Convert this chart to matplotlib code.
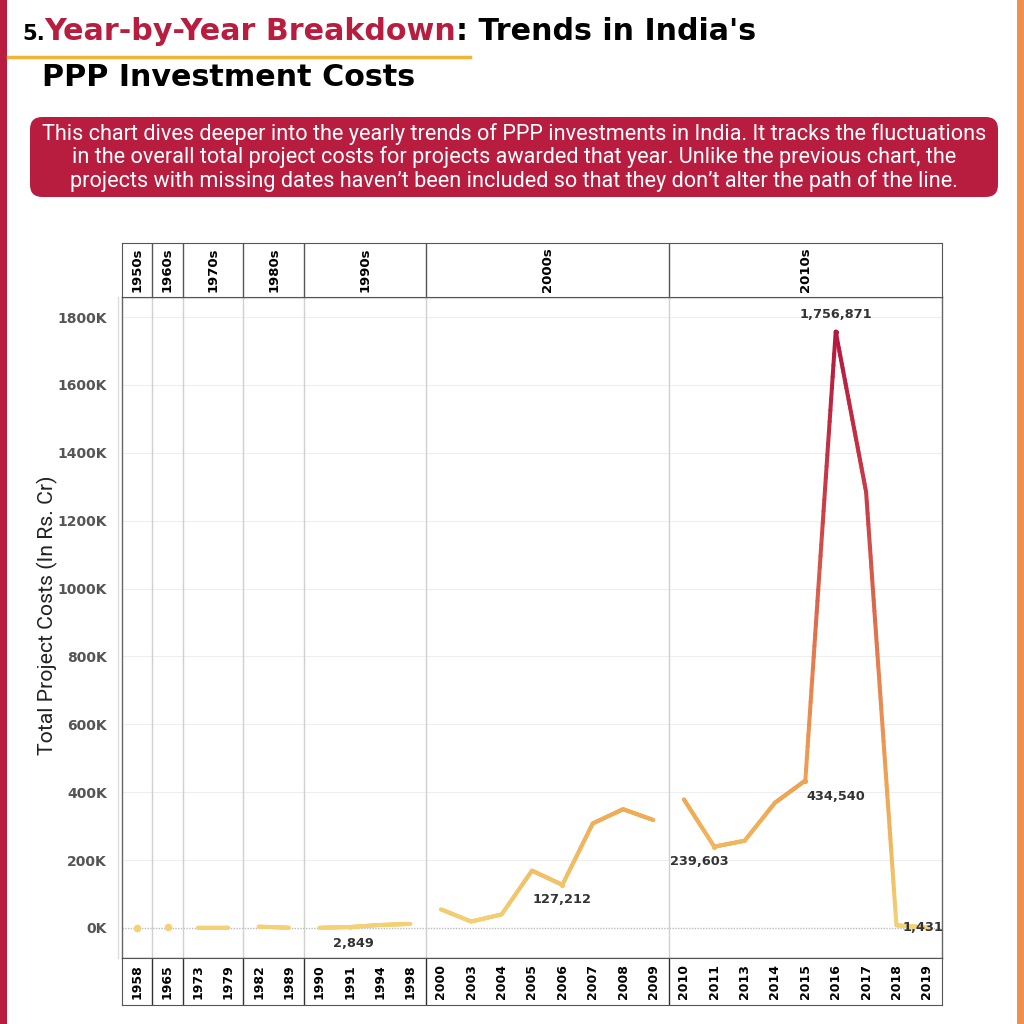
import numpy as np
import matplotlib
matplotlib.use("Agg")
import matplotlib.pyplot as plt
from matplotlib import font_manager
from matplotlib.collections import LineCollection
from matplotlib.colors import LinearSegmentedColormap
from matplotlib.patches import FancyBboxPatch, Rectangle
from matplotlib.lines import Line2D

# data
years = ['1958', '1965', '1973', '1979', '1982', '1989', '1990', '1991', '1994', '1998',
         '2000', '2003', '2004', '2005', '2006', '2007', '2008', '2009',
         '2010', '2011', '2013', '2014', '2015', '2016', '2017', '2018', '2019']
costs = [1000, 1500, 500, 600, 4000, 800, 600, 2849, 9000, 12000,
         55000, 19000, 40000, 169000, 127212, 308000, 350000, 318000,
         379000, 239603, 257000, 369000, 434540, 1756871, 1285000, 8000, 1431]
decades = ['1950s', '1960s', '1970s', '1980s', '1990s', '2000s', '2010s']
labelled_years = ['1991', '2006', '2011', '2015', '2016', '2019']
y_ticks = [0, 200000, 400000, 600000, 800000, 1000000, 1200000, 1400000, 1600000, 1800000]

CRIMSON = '#b81d40'
ORANGE = '#f08d4f'
GOLD = '#f2b533'


def pick(cands):
    names = {f.name for f in font_manager.fontManager.ttflist}
    for c in cands:
        if c in names:
            return c
    return 'DejaVu Sans'


title_font = 'DejaVu Sans'
light_font = pick(['Roboto', 'Lato', 'Open Sans'])

W = 1024.0
fig = plt.figure(figsize=(10.24, 10.24), dpi=100)
fig.patch.set_facecolor('white')
renderer = fig.canvas.get_renderer()


def fx(px):
    return px / W


def fy(py):
    return 1 - py / W


def width_px(s, size, **kw):
    t = fig.text(0, 0, s, fontsize=size, **kw)
    w = t.get_window_extent(renderer=renderer).width
    t.remove()
    return w


# side bars
fig.add_artist(Rectangle((0, 0), fx(7), 1, transform=fig.transFigure, color=CRIMSON, lw=0))
fig.add_artist(Rectangle((fx(1017), 0), fx(7), 1, transform=fig.transFigure, color=ORANGE, lw=0))

# title, sized to span the same width as the reference
tkw = dict(fontweight='bold', family=title_font)
w1 = width_px("Year-by-Year Breakdown: Trends in India's", 20, **tkw)
tsize = 20 * 712 / w1
x = fx(22)
for s, c, size in [('5.', 'black', tsize * 0.7), ('Year-by-Year Breakdown', CRIMSON, tsize),
                   (": Trends in India's", 'black', tsize)]:
    t = fig.text(x, fy(40), s, color=c, fontsize=size, va='baseline', **tkw)
    bb = t.get_window_extent(renderer=renderer)
    x = bb.x1 / fig.bbox.width
fig.text(fx(42), fy(86), 'PPP Investment Costs', color='black', fontsize=tsize,
         va='baseline', **tkw)
fig.add_artist(Line2D([fx(8), fx(470)], [fy(57), fy(57)], transform=fig.transFigure,
                      color=GOLD, lw=2.5))

# description box
fig.add_artist(FancyBboxPatch((fx(30), fy(197)), fx(968), 80 / W,
                              boxstyle='round,pad=0,rounding_size=0.012',
                              transform=fig.transFigure, fc=CRIMSON, ec='none'))
desc_lines = ["This chart dives deeper into the yearly trends of PPP investments in India. It tracks the fluctuations",
              "in the overall total project costs for projects awarded that year. Unlike the previous chart, the",
              "projects with missing dates haven\u2019t been included so that they don\u2019t alter the path of the line."]
dkw = dict(family=light_font, fontweight='normal')
dsize = 13 * 944 / width_px(desc_lines[0], 13, **dkw)
for k, line in enumerate(desc_lines):
    fig.text(fx(514), fy(134 + 23.5 * k), line, color='white', fontsize=dsize,
             ha='center', va='center', **dkw)

# colours by value
cmap = LinearSegmentedColormap.from_list('ppp', [(0, '#f3d174'), (0.2, '#f0aa55'),
                                                  (0.45, '#e57d4f'), (0.7, '#cc3f47'),
                                                  (1, '#b5173f')])
vmax = max(costs)

n = len(years)
xs = np.arange(n)
dec_of = [y[:3] + '0s' for y in years]
bounds = [i - 0.5 for i in range(1, n) if dec_of[i] != dec_of[i - 1]]
edges = [-0.5] + bounds + [n - 0.5]

# main plot
ax = fig.add_axes([fx(122), fy(958), fx(820), 661 / W])
ax.set_xlim(-0.5, n - 0.5)
ax.set_ylim(-88400, 1859000)
for v in y_ticks[1:]:
    ax.axhline(v, color='#eeeeee', lw=0.8, zorder=0)
ax.axhline(0, color='#bbbbbb', lw=1, ls=(0, (1, 1)), zorder=0)
for b in bounds:
    ax.axvline(b, color='#d0d0d0', lw=1, zorder=0)

for d in decades:
    idx = [i for i in range(n) if dec_of[i] == d]
    if len(idx) == 1:
        i = idx[0]
        ax.scatter([xs[i]], [costs[i]], s=30, color=cmap(costs[i] / vmax), zorder=3, lw=0)
        continue
    segs, cols = [], []
    for a, b in zip(idx[:-1], idx[1:]):
        tt = np.linspace(0, 1, 41)
        px = xs[a] + (xs[b] - xs[a]) * tt
        py = costs[a] + (costs[b] - costs[a]) * tt
        for k in range(40):
            segs.append([(px[k], py[k]), (px[k + 1], py[k + 1])])
            cols.append(cmap((py[k] + py[k + 1]) / 2 / vmax))
    ax.add_collection(LineCollection(segs, colors=cols, lw=2.9, capstyle='round', zorder=3))

label_off = {'1991': (4, -16), '2006': (0, -15), '2011': (-15, -15),
             '2015': (30, -16), '2016': (0, 17), '2019': (-4, 0)}
for y in labelled_years:
    i = years.index(y)
    ax.scatter([xs[i]], [costs[i]], s=14, color=cmap(costs[i] / vmax), zorder=4, lw=0)
    ax.annotate(f'{costs[i]:,}', (xs[i], costs[i]), xytext=label_off[y],
                textcoords='offset pixels', ha='center', va='center',
                fontsize=9.3, fontweight='bold', color='#333333', zorder=5)

ax.set_yticks(y_ticks)
ax.set_yticklabels([f'{v // 1000}K' for v in y_ticks], fontsize=10,
                   fontweight='bold', color='#555555')
ax.tick_params(axis='y', length=0, pad=11)
ax.set_xticks([])
for sp in ax.spines.values():
    sp.set_color('#666666')
    sp.set_linewidth(1)

ylab = 'Total Project Costs (In Rs. Cr)'
ysize = 13 * 280 / width_px(ylab, 13, **dkw)
fig.text(fx(47), fy(615), ylab, rotation=90, ha='center', va='center',
         fontsize=ysize, color='#222222', **dkw)
fig.add_artist(Line2D([fx(118), fx(118)], [fy(297), fy(958)], transform=fig.transFigure,
                      color='#dddddd', lw=1))

# decade header
hax = fig.add_axes([fx(122), fy(297), fx(820), 54 / W])
hax.set_xlim(-0.5, n - 0.5)
hax.set_ylim(0, 1)
hax.set_xticks([])
hax.set_yticks([])
for b in bounds:
    hax.axvline(b, color='#555555', lw=1)
for d, l, r in zip(decades, edges[:-1], edges[1:]):
    hax.text((l + r) / 2, 0.5, d, rotation=90, ha='center', va='center',
             fontsize=9.5, fontweight='bold', color='black')
for sp in hax.spines.values():
    sp.set_color('#555555')

# year footer
fax = fig.add_axes([fx(122), fy(1005), fx(820), 47 / W])
fax.set_xlim(-0.5, n - 0.5)
fax.set_ylim(0, 1)
fax.set_xticks([])
fax.set_yticks([])
for b in bounds:
    fax.axvline(b, color='#333333', lw=1)
for i, y in enumerate(years):
    fax.text(xs[i], 0.5, y, rotation=90, ha='center', va='center',
             fontsize=9, fontweight='bold', color='black')
for sp in fax.spines.values():
    sp.set_color('#555555')

fig.savefig('out.png', dpi=100, facecolor='white')
